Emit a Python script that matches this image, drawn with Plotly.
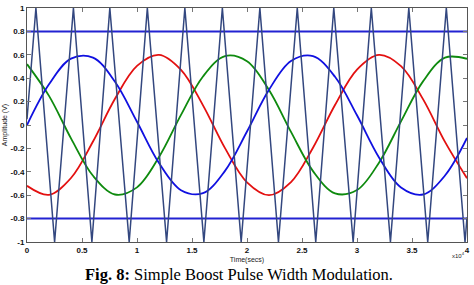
import plotly.graph_objects as go

x_sine = [0.0, 0.2, 0.4, 0.6, 0.8, 1.0, 1.2, 1.4, 1.6, 1.8, 2.0,
          2.2, 2.4, 2.6, 2.8, 3.0, 3.2, 3.4, 3.6, 3.8, 4.0]
blue_vals = [0.0, 0.348, 0.567, 0.576, 0.370, 0.028, -0.325, -0.557, -0.583, -0.392, -0.056,
             0.301, 0.547, 0.589, 0.412, 0.083, -0.277, -0.534, -0.594, -0.432, -0.111]
red_vals = [-0.520, -0.597, -0.453, -0.141, 0.224, 0.505, 0.599, 0.471, 0.168, -0.198, -0.490,
            -0.600, -0.488, -0.194, 0.171, 0.473, 0.599, 0.503, 0.221, -0.144, -0.455]
green_vals = [0.520, 0.249, -0.114, -0.434, -0.594, -0.533, -0.274, 0.086, 0.415, 0.589, 0.545,
              0.299, -0.059, -0.394, -0.584, -0.556, -0.322, 0.031, 0.373, 0.576, 0.566]

# Triangle carrier vertices
carrier_start = (0.0, 0.05)
carrier_peaks = [0.081, 0.422, 0.753, 1.094, 1.435, 1.776, 2.117, 2.457, 2.789, 3.130, 3.471, 3.812]
carrier_troughs = [0.251, 0.590, 0.929, 1.269, 1.608, 1.947, 2.286, 2.625, 2.965, 3.304, 3.643, 3.982]
carrier_end = (4.0, -0.79)

ref_level = 0.8

x_ticks = [0, 0.5, 1, 1.5, 2, 2.5, 3, 3.5, 4]
x_ticklabels = ["0", "0.5", "1", "1.5", "2", "2.5", "3", "3.5", "4"]
y_ticks = [-1, -0.8, -0.6, -0.4, -0.2, 0, 0.2, 0.4, 0.6, 0.8, 1]
y_ticklabels = ["-1", "-0.8", "-0.6", "-0.4", "-0.2", "0", "0.2", "0.4", "0.6", "0.8", "1"]

cx = [carrier_start[0]]
cy = [carrier_start[1]]
for p, t in zip(carrier_peaks, carrier_troughs):
    cx += [p, t]
    cy += [1, -1]
cx.append(carrier_end[0])
cy.append(carrier_end[1])

fig = go.Figure()
fig.add_trace(go.Scatter(x=[0, 4], y=[ref_level, ref_level], mode="lines",
                         line=dict(color="#2222d2", width=2)))
fig.add_trace(go.Scatter(x=[0, 4], y=[-ref_level, -ref_level], mode="lines",
                         line=dict(color="#2222d2", width=2)))
fig.add_trace(go.Scatter(x=x_sine, y=red_vals, mode="lines", line=dict(color="#e31010", width=1.8, shape="spline")))
fig.add_trace(go.Scatter(x=x_sine, y=green_vals, mode="lines", line=dict(color="#0e8a0e", width=1.8, shape="spline")))
fig.add_trace(go.Scatter(x=x_sine, y=blue_vals, mode="lines", line=dict(color="#1010e0", width=1.8, shape="spline")))
fig.add_trace(go.Scatter(x=cx, y=cy, mode="lines", line=dict(color="#33477f", width=1.5)))

axis_common = dict(showgrid=False, zeroline=False, showline=True, linecolor="#555555", linewidth=1,
                   mirror="ticks", ticks="inside", ticklen=4, tickcolor="#777777",
                   tickfont=dict(family="Liberation Sans", size=8, color="#111111"))

fig.update_xaxes(range=[0, 4], tickvals=x_ticks, ticktext=["<b>%s</b>" % t for t in x_ticklabels],
                 title=dict(text="Time(secs)", font=dict(family="Liberation Sans", size=7, color="#222222"), standoff=3),
                 **axis_common)
fig.update_yaxes(range=[-1, 1], tickvals=y_ticks, ticktext=["<b>%s</b>" % t for t in y_ticklabels],
                 title=dict(text="Amplitude (V)", font=dict(family="Liberation Sans", size=7, color="#222222"), standoff=2),
                 **axis_common)

fig.add_annotation(x=1, y=0, xref="paper", yref="paper", xanchor="right", yanchor="top",
                   yshift=-7, text="x10<sup>4</sup>", showarrow=False,
                   font=dict(family="Liberation Sans", size=6, color="#222222"))
fig.add_annotation(x=0.5, y=0, xref="paper", yref="paper", xanchor="center", yanchor="middle",
                   yshift=-32, xshift=-8, text="<b>Fig. 8:</b> Simple Boost Pulse Width Modulation.", showarrow=False,
                   font=dict(family="Liberation Serif", size=16.5, color="#000000"))

fig.update_layout(width=474, height=285, margin=dict(l=23, r=5, t=4, b=43),
                  paper_bgcolor="white", plot_bgcolor="white", showlegend=False)

fig.write_html("out.html")
